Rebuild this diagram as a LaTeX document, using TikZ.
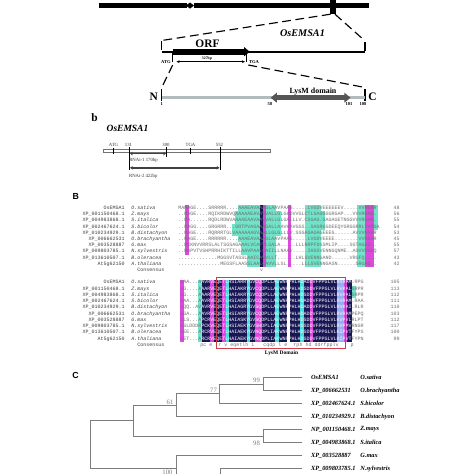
\documentclass[tikz,border=0pt]{standalone}
\usepackage{fontspec}
\setmainfont{Liberation Serif}
\newfontfamily\alnmono{Liberation Mono}
\newfontfamily\lblsans{Liberation Sans}
\usetikzlibrary{arrows.meta}
\definecolor{navy}{RGB}{24,22,84}
\definecolor{mag}{RGB}{222,72,222}
\definecolor{aqua}{RGB}{112,228,200}
\definecolor{cyn}{RGB}{70,222,222}
\definecolor{lblue}{RGB}{150,175,240}
\definecolor{rbox}{RGB}{205,60,75}
\definecolor{treeg}{RGB}{125,125,125}
\definecolor{protg}{RGB}{178,188,188}
\definecolor{lysg}{RGB}{85,85,85}
\definecolor{seqg}{RGB}{110,110,110}
\newcommand{\alnfont}{\alnmono\fontsize{2.85}{3}\selectfont}
\newcommand{\treefont}{\bfseries\itshape\fontsize{3.6}{4}\selectfont}
\newcommand{\bandA}[5]{\fill[#1] (#2,{205.2+6.2*(#4-1)}) rectangle (#3,{205.2+6.2*(#5)});}
\newcommand{\bandB}[5]{\fill[#1] (#2,{279.6+6.25*(#4-1)}) rectangle (#3,{279.6+6.25*(#5)});}
\newcommand{\seqrowA}[3]{\node[alnseq] (sa#1) at (178,{209.5+6.2*(#1-1)}) {#2};
  \node[alnnum] (na#1) at (400,{209.5+6.2*(#1-1)}) {#3};}
\newcommand{\seqrowB}[5]{\node[alnseq] (sb#1) at (180,{283.9+6.25*(#1-1)}) {\textcolor{seqg}{#2}\textcolor{white}{#3}\textcolor{seqg}{#4}};
  \node[alnnum] (nb#1) at (400,{283.9+6.25*(#1-1)}) {#5};}
\tikzset{
  zdash/.style={line width=0.65pt, dash pattern=on 5pt off 2.6pt},
  tinyl/.style={font=\bfseries\fontsize{2.6}{3}\selectfont, inner sep=0},
  blab/.style={font=\fontsize{2.7}{3}\selectfont, inner sep=0, text=black!80},
  alnname/.style={font=\alnfont, inner sep=0, text=black!75},
  alnsp/.style={font=\alnfont\itshape, inner sep=0, text=black!75, anchor=base west},
  alnseq/.style={font=\alnfont, inner sep=0, text=seqg, anchor=base west},
  alnnum/.style={font=\alnfont, inner sep=0, text=seqg, anchor=base east},
  treeline/.style={draw=treeg, line width=0.5pt},
  leaf/.style={font=\treefont, inner sep=0, anchor=west},
  boot/.style={font=\fontsize{3.8}{4}\selectfont, inner sep=0, text=treeg}
}
\begin{document}
\frenchspacing
\begin{tikzpicture}[x=0.02cm,y=-0.02cm]
\useasboundingbox (0,0) rectangle (474,474);
\fill[white] (0,0) rectangle (474,474);
\begin{scope}
\clip (0,0) rectangle (474,474);
% ---------------- Panel A ----------------
\fill[black] (99.3,2.8) rectangle (186.5,8.3);
\fill[black] (193.5,2.8) rectangle (369.3,8.3);
\fill[black] (186,5.55) -- (190,2.5) -- (194,5.55) -- (190,8.6) -- cycle;
\fill[black] (330,0) rectangle (335.5,14.2);
\coordinate (mkL) at (330.5,14.2);
\coordinate (mkR) at (335,14.2);
\coordinate (gL) at (161.7,40.5);
\coordinate (gR) at (364.5,40.5);
\draw[zdash] (mkL) -- (gL);
\draw[zdash] (mkR) -- (gR);
\draw[zdash] (161.7,41) -- (161.7,51.7);
\draw[zdash] (365,42) -- (365,51.7);
\node[font=\bfseries\itshape\fontsize{5.8}{6}\selectfont, inner sep=0] (osA) at (302.5,33.3) {OsEMSA1};
\draw[line width=1.1pt] (161.7,51.7) -- (365,51.7);
\fill (172.7,48.8) rectangle (245,54.6);
\fill (244,47) -- (249.7,51.7) -- (244,56.4) -- cycle;
\node[font=\bfseries\fontsize{6.5}{7}\selectfont, inner sep=0] (orf) at (207.5,43.5) {ORF};
\draw[line width=0.5pt] (172.7,51.7) -- (172.7,62);
\draw[line width=0.5pt] (246.7,54) -- (246.7,62);
\node[tinyl] (atg) at (166,61.8) {ATG};
\node[tinyl] (tga) at (254,61.8) {TGA};
\draw[line width=0.35pt, {Stealth[length=1.8pt,width=1.6pt]}-{Stealth[length=1.8pt,width=1.6pt]}] (176.5,61.7) -- (245,61.7);
\node[tinyl, font=\bfseries\fontsize{2.2}{3}\selectfont] (bp) at (207,58.3) {327bp};
\draw[zdash] (172.7,65) -- (161.7,87.5);
\draw[zdash] (248.3,65) -- (365,87.5);
\draw[line width=0.6pt] (161.7,89.3) -- (161.7,100.5);
\draw[line width=0.6pt] (365,89.3) -- (365,100.5);
\draw[protg, line width=1.6pt] (161.7,97.7) -- (365,97.7);
\draw[lysg, line width=2.8pt, {Triangle[length=3.5pt,width=5.5pt]}-{Triangle[length=3.5pt,width=5.5pt]}] (270.7,97.7) -- (350.5,97.7);
\node[font=\bfseries\fontsize{4.5}{5}\selectfont, inner sep=0] (lysA) at (313,91.8) {LysM domain};
\node[font=\bfseries\fontsize{6.5}{7}\selectfont, inner sep=0] (nN) at (153.8,96.8) {N};
\node[font=\bfseries\fontsize{6.5}{7}\selectfont, inner sep=0] (nC) at (372.4,97) {C};
\node[tinyl] at (161.7,104.2) {1};
\node[tinyl] at (270,104.2) {58};
\node[tinyl] at (349,104.2) {101};
\node[tinyl] at (363,104.2) {108};
% ---------------- Panel b ----------------
\node[font=\bfseries\fontsize{6.5}{7}\selectfont, inner sep=0] (lb) at (94.5,118) {b};
\node[font=\bfseries\itshape\fontsize{5.4}{6}\selectfont, inner sep=0] (osb) at (127.5,128) {OsEMSA1};
\draw[draw=black!55, line width=0.3pt, fill=white] (103.5,149.4) rectangle (270,152.2);
\draw[line width=0.6pt] (113.5,147.8) -- (113.5,154);
\draw[line width=0.6pt] (190.5,147.8) -- (190.5,154);
\draw[line width=0.5pt] (129.3,147.3) -- (129.3,169.5);
\draw[line width=0.5pt] (166.7,147.3) -- (166.7,156.7);
\draw[line width=0.5pt] (220,147.3) -- (220,169.5);
\node[blab] at (113.5,144.8) {ATG};
\node[blab] at (128.5,145.2) {131};
\node[blab] at (166,145.2) {300};
\node[blab] at (190.5,145.2) {TGA};
\node[blab] at (219.5,145.2) {552};
\draw[black!75, line width=0.9pt, {Stealth[length=1.6pt,width=2pt]}-{Stealth[length=1.6pt,width=2pt]}] (130,153.6) -- (166,153.6);
\node[blab] (r1) at (143.5,160.3) {RNAi-1 170bp};
\draw[black!75, line width=0.9pt, {Stealth[length=1.6pt,width=2pt]}-{Stealth[length=1.6pt,width=2pt]}] (130,167.8) -- (219.5,167.8);
\node[blab] (r2) at (143.3,176.8) {RNAi-2 422bp};
% ---------------- Panel B (alignment) ----------------
\node[font=\lblsans\bfseries\fontsize{5}{6}\selectfont, inner sep=0] (lB) at (75.8,196.7) {B};
% block 1 backgrounds
\bandA{mag}{185.3}{188.6}{1}{8}
\bandA{aqua}{238}{259.5}{1}{1}
\bandA{aqua}{235}{259.5}{2}{3}
\bandA{aqua}{232}{259.5}{4}{5}
\bandA{aqua}{238}{259.5}{6}{6}
\bandA{aqua}{241}{259.5}{7}{8}
\bandA{aqua}{247}{259.5}{9}{10}
\bandA{navy}{259.5}{262.7}{1}{10}
\bandA{mag}{262.7}{266}{1}{10}
\bandA{aqua}{266}{275.5}{1}{10}
\bandA{aqua}{275.5}{281}{2}{5}
\bandA{mag}{287.5}{291}{1}{10}
\bandA{aqua}{305}{321}{1}{10}
\bandA{aqua}{321}{325}{2}{4}
\bandA{aqua}{357}{365}{1}{10}
\bandA{mag}{365}{374}{1}{10}
\bandA{aqua}{374}{378}{1}{4}
% block 2 backgrounds
\bandB{mag}{180}{183.5}{1}{10}
\bandB{aqua}{197.5}{201.5}{1}{10}
\bandB{navy}{201.5}{352}{1}{10}
\bandB{mag}{210}{213.5}{1}{10}
\bandB{mag}{222}{225.5}{1}{10}
\bandB{cyn}{225.5}{229}{1}{10}
\bandB{cyn}{246.5}{249.5}{1}{10}
\bandB{mag}{255}{261.5}{1}{10}
\bandB{cyn}{275}{278.5}{1}{10}
\bandB{white}{287}{290}{1}{10}
\bandB{cyn}{300}{303.5}{1}{10}
\bandB{mag}{310}{313}{1}{10}
\bandB{lblue}{337}{344}{1}{10}
\bandB{mag}{344}{347}{1}{10}
\bandB{aqua}{352}{356}{2}{3}
% names
\foreach \i/\id/\sp in {1/OsEMSA1/O.sativa, 2/XP\_001150468.1/Z.mays, 3/XP\_004983868.1/S.italica, 4/XP\_002467624.1/S.bicolor, 5/XP\_010234929.1/B.distachyon, 6/XP\_006662531/O.brachyantha, 7/XP\_003528887/G.max, 8/XP\_009803785.1/N.sylvestris, 9/XP\_013610507.1/B.oleracea, 10/At5g62150/A.thaliana}{
  \node[alnname, anchor=base east] (ida\i) at (125,{209.5+6.2*(\i-1)}) {\id};
  \node[alnsp] (spa\i) at (131,{209.5+6.2*(\i-1)}) {\sp};
  \node[alnname, anchor=base east] (idb\i) at (125,{283.9+6.25*(\i-1)}) {\id};
  \node[alnsp] (spb\i) at (131,{283.9+6.25*(\i-1)}) {\sp};
}
% block 1 sequences
\seqrowA{1}{MAMAGE....SRRRRR....AAAEAVAAAGLAAVPAAS.....LVGDVEEEEEEV.....VVRGAR}{48}
\seqrowA{2}{..MAGE....RQIKRDWVQAAAAAEAVAVVALLGLGHDVVGLCTLGAGGGGRGAP...VVVRGAR.}{56}
\seqrowA{3}{..MA......RQDLRDWVAAAAEAAVAAVVALLGLGALLLV.CSGAG.GAGAGETNGGVVVRGAR.}{55}
\seqrowA{4}{..MAGG....GRGRRR...GRTPVASAAAGALLAAVHAVGGS..SAGRGGDEEQYGRGGRRLVVRGA}{54}
\seqrowA{5}{..MAGE....RQRRRTGLVAAAAAAGVAALLGLGLLLV.SSGAGAGAGEEEG......AVVVRGRR}{53}
\seqrowA{6}{..MAGE....RRRRRR....AAAEAVAAAGLAAVPAAS.....LVGDVEEEE........VVRGAR}{45}
\seqrowA{7}{..MKKNVVRRSLALTSGSAGAAALVCAFVLSALA.....LLLNRPFDSSMLIP....SGTAGAQ..}{55}
\seqrowA{8}{..MAPVTVSHPRRHIKTTILLAAVPAALCAIILLNAAV.....IHSSVENNGQNME..AGVVRGAQ}{57}
\seqrowA{9}{.............MGGSVTASSLAAICAVVLLT......LHLSVENNGAND......VRGFQ....}{43}
\seqrowA{10}{..............MEGSFLAASSLAALCAVVLLSL.....LLLSVENNGASN......SRGAQ..}{42}
\node[alnname, anchor=base west] (consA) at (137,271.7) {Consensus};
\node[alnseq] (cmA) at (259.8,271.2) {v};
% block 2 sequences
\seqrowB{1}{LAA...A}{AVRVEQETLHSIARRYGVCQDPLLAEWNRPHLHDADDVFPPGLVLRVRAM}{.RPG}{105}
\seqrowB{2}{LG....A}{AARVEQETLHAIAKRYGVCQDPLLAEWNRPHLHDSDDVFPPGLVLRVKAL}{SRPR}{113}
\seqrowB{3}{LG....A}{AARVEQETLHAIAKRYGVCQDPLLAEWNRPHLHDSDDVFPPGLVLRVKAL}{SRPR}{112}
\seqrowB{4}{LAA...A}{AVRVEQETLHSIARRYGVCQDPLLAEWNRPHLHDADDVFPPGLVLRVRAM}{.RAA}{111}
\seqrowB{5}{LQQ..AV}{AVRVEQETLHAIAGRYGVSQDPLLAEWNRPHLHDADDVFPPGLVLRVKAI}{.RLR}{110}
\seqrowB{6}{LGA...A}{AVRVEQETLHSIARRYGVCQDPLLAEWNRPHLHDADDVFPPGLVLRVRAM}{PEPQ}{103}
\seqrowB{7}{LLS...A}{PCRVEQETLHAIASKYGVSQDPLLAEWNRPHLHDSDDVFPPGLVLKVPVL}{RLPT}{112}
\seqrowB{8}{LSLDDDR}{PCKVEQETLHSIAEKYGVSHDPLIAEWNRPHLHDSDDVFPPGLVLRVPMV}{RNGR}{117}
\seqrowB{9}{LEE...A}{RCRVEQETLHAIAEKYGVNQDPLIAKWNRPHLHDSDDVFPPGLVLKIPVT}{FYPS}{100}
\seqrowB{10}{LET...A}{RCRVEQETLHAIAEKYGVNQDPLIAKWNRPHLHDSDDVFPPGLVLKIPVT}{FYPN}{99}
\draw[rbox, line width=0.5pt] (216,277) rectangle (345.5,348.5);
\node[alnname, anchor=base west] (consB) at (137,346.4) {Consensus};
\node[alnseq] (cmB) at (200,346.4) {pc\ e\ \ r\ v\ eqetlh\ i\ \ \ cqdp\ l\ e\ \ rph\ hd\ ddrfpplv\ \ \ \ p};
\node[font=\bfseries\fontsize{3.1}{4}\selectfont, inner sep=0] (lysB) at (281.5,353.6) {LysM Domain};
% ---------------- Panel C (tree) ----------------
\node[font=\lblsans\bfseries\fontsize{5}{6}\selectfont, inner sep=0] (lC) at (75.6,375) {C};
\foreach \k/\id/\sp in {1/OsEMSA1/O.sativa, 2/XP\_006662531/O.brachyantha, 3/XP\_002467624.1/S.bicolor, 4/XP\_010234929.1/B.distachyon, 5/NP\_001150468.1/Z.mays, 6/XP\_004983868.1/S.italica, 7/XP\_003528887/G.max, 8/XP\_009803785.1/N.sylvestris}{
  \node[leaf] (tid\k) at (310.7,{377.5+13*(\k-1)}) {\id};
  \node[leaf] (tsp\k) at (360,{377.5+13*(\k-1)}) {\sp};
}
\draw[treeline] (302,377.5) -- (263.3,377.5) -- (263.3,390.5) -- (302,390.5);
\draw[treeline] (263.3,384) -- (219.5,384) -- (219.5,403.5) -- (302,403.5);
\draw[treeline] (219.5,393.8) -- (176.3,393.8) -- (176.3,416.5) -- (302,416.5);
\draw[treeline] (302,429.5) -- (263.3,429.5) -- (263.3,442.5) -- (302,442.5);
\draw[treeline] (176.3,405.2) -- (133.7,405.2) -- (133.7,436) -- (263.3,436);
\draw[treeline] (133.7,420.6) -- (90,420.6) -- (90,468.5) -- (176.7,468.5);
\draw[treeline] (302,455.5) -- (176.7,455.5) -- (176.7,480);
\draw[treeline] (302,468.5) -- (220,468.5) -- (220,480);
\node[boot] (b99) at (256.5,380.8) {99};
\node[boot] (b77) at (213.5,390.6) {77};
\node[boot] (b61) at (170,402.3) {61};
\node[boot] (b98) at (256.5,443.3) {98};
\node[boot] (b100) at (167.5,472.8) {100};
\end{scope}
\end{tikzpicture}
\end{document}
